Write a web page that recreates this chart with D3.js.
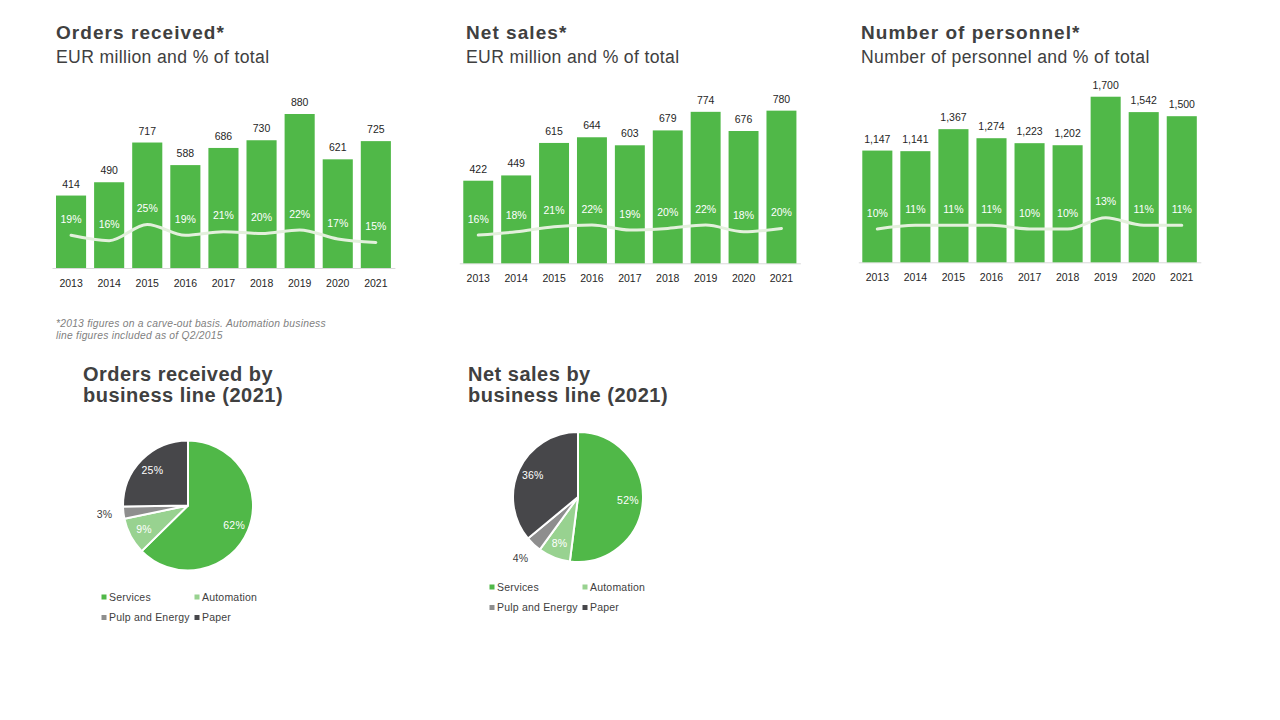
<!DOCTYPE html>
<html><head><meta charset="utf-8">
<script src="https://cdn.jsdelivr.net/npm/d3@7"></script>
<style>
html,body{margin:0;padding:0;background:#fff;}
svg{display:block;font-family:"Liberation Sans",Arial,sans-serif;}
</style></head>
<body>
<svg id="c" width="1280" height="720"></svg>
<script>
// ---- DATA ----
const years = ["2013","2014","2015","2016","2017","2018","2019","2020","2021"];
const ordersValues = [414,490,717,588,686,730,880,621,725];
const ordersPct = [19,16,25,19,21,20,22,17,15];
const salesValues = [422,449,615,644,603,679,774,676,780];
const salesPct = [16,18,21,22,19,20,22,18,20];
const personnelValues = [1147,1141,1367,1274,1223,1202,1700,1542,1500];
const personnelPct = [10,11,11,11,10,10,13,11,11];

const businessLines = ["Services","Automation","Pulp and Energy","Paper"];
const ordersByLine = [62,9,3,25];
const salesByLine = [52,8,4,36];

// ---- STYLE ----
const GREEN = "#50b848", LIGHT = "#98d290", GREY = "#8e8e8e", DARK = "#47474a";
const LINE = "#e3f0dc", TXT = "#404040";
const lineColors = [GREEN, LIGHT, GREY, DARK];

const svg = d3.select("#c");

function title(x, t1, t2){
  svg.append("text").attr("x",x).attr("y",39).attr("fill",TXT)
    .attr("font-size",19).attr("font-weight","bold").attr("letter-spacing",1.05).text(t1);
  svg.append("text").attr("x",x).attr("y",63).attr("fill",TXT)
    .attr("font-size",17.6).attr("letter-spacing",0.35).text(t2);
}

function barChart(cfg){
  const g = svg.append("g");
  const x = d3.scaleBand().domain(years).range([cfg.x0,cfg.x1]).paddingInner(0.21).paddingOuter(0.105);
  const y = d3.scaleLinear().domain([0,1000]).range([cfg.base, cfg.base - 1000*cfg.k]);
  const y2 = d3.scaleLinear().domain([0,100]).range([cfg.zero2, cfg.zero2 - 100*cfg.k2]);
  const fmt = d3.format(",");
  const axis = d3.axisBottom(x).tickSize(0).tickPadding(0);
  const ag = g.append("g").attr("transform",`translate(0,${cfg.base})`).call(axis);
  ag.select(".domain").attr("stroke","#d9d9d9").attr("stroke-width",1);
  ag.selectAll("text").attr("font-size",10.5).attr("fill","#262626")
    .attr("font-family","'Liberation Sans',Arial,sans-serif").attr("dy",null).attr("y",19);
  g.selectAll("rect.bar").data(cfg.values).join("rect").attr("class","bar")
    .attr("x",(d,i)=>x(years[i])).attr("width",x.bandwidth())
    .attr("y",d=>y(d)).attr("height",d=>cfg.base-y(d)).attr("fill",GREEN);
  g.selectAll("text.val").data(cfg.values).join("text").attr("class","val")
    .attr("x",(d,i)=>x(years[i])+x.bandwidth()/2).attr("y",d=>y(d)-8)
    .attr("text-anchor","middle").attr("font-size",10.5).attr("fill","#262626").text(d=>fmt(d));
  const line = d3.line().x((d,i)=>x(years[i])+x.bandwidth()/2).y(d=>y2(d)).curve(d3.curveMonotoneX);
  g.append("path").datum(cfg.pct).attr("d",line).attr("fill","none")
    .attr("stroke",LINE).attr("stroke-width",3).attr("stroke-linecap","round").attr("stroke-linejoin","round");
  g.selectAll("text.pct").data(cfg.pct).join("text").attr("class","pct")
    .attr("x",(d,i)=>x(years[i])+x.bandwidth()/2).attr("y",d=>y2(d)-16)
    .attr("dy","0.35em").attr("text-anchor","middle").attr("font-size",10.5).attr("fill","#fff").text(d=>d+"%");
}

title(56,"Orders received*","EUR million and % of total");
title(466,"Net sales*","EUR million and % of total");
title(861,"Number of personnel*","Number of personnel and % of total");

barChart({values:ordersValues,pct:ordersPct,x0:52,x1:394.9,base:268,k:0.175,zero2:269.5,k2:1.8});
barChart({values:salesValues,pct:salesPct,x0:459.3,x1:800.4,base:263.3,k:0.1957,zero2:262,k2:1.68});
barChart({values:personnelValues,pct:personnelPct,x0:858.3,x1:1200.8,base:262.3,k:0.0974,zero2:266.5,k2:3.75});

// footnote
svg.append("text").attr("x",56).attr("y",326.5).attr("font-size",10.3).attr("letter-spacing",0.23)
  .attr("font-style","italic").attr("fill","#7f7f7f")
  .text("*2013 figures on a carve-out basis. Automation business");
svg.append("text").attr("x",56).attr("y",338.5).attr("font-size",10.3).attr("letter-spacing",0.23)
  .attr("font-style","italic").attr("fill","#7f7f7f")
  .text("line figures included as of Q2/2015");

function pieChart(cfg){
  svg.append("text").attr("x",cfg.tx).attr("y",381).attr("fill",TXT).attr("font-size",20)
    .attr("font-weight","bold").attr("letter-spacing",0.5).text(cfg.t1);
  svg.append("text").attr("x",cfg.tx).attr("y",402).attr("fill",TXT).attr("font-size",20)
    .attr("font-weight","bold").attr("letter-spacing",0.5).text("business line (2021)");
  const g = svg.append("g").attr("transform",`translate(${cfg.cx},${cfg.cy})`);
  const pie = d3.pie().sort(null).value(d=>d);
  const arcs = pie(cfg.values);
  const arc = d3.arc().innerRadius(0).outerRadius(65);
  const inArc = d3.arc().innerRadius(50).outerRadius(50);
  const outArc = d3.arc().innerRadius(84).outerRadius(84);
  g.selectAll("path").data(arcs).join("path").attr("d",arc)
    .attr("fill",(d,i)=>lineColors[i]).attr("stroke","#fff").attr("stroke-width",2).attr("stroke-linejoin","round");
  g.selectAll("text").data(arcs).join("text")
    .attr("transform",(d,i)=>`translate(${(i===2?outArc:inArc).centroid(d)})`)
    .attr("text-anchor","middle").attr("dy","0.35em").attr("font-size",10.5).attr("letter-spacing",0.2)
    .attr("fill",(d,i)=>i===2?TXT:"#fff").text(d=>d.data+"%");
  const lg = svg.append("g");
  businessLines.forEach((name,i)=>{
    const lx = cfg.lx + (i%2)*cfg.col, ly = cfg.ly + Math.floor(i/2)*20.5;
    lg.append("rect").attr("x",lx-2.5).attr("y",ly-2.5).attr("width",5).attr("height",5).attr("fill",lineColors[i]);
    lg.append("text").attr("x",lx+5).attr("y",ly).attr("dy","0.35em").attr("font-size",10.5)
      .attr("letter-spacing",0.2).attr("fill",TXT).text(name);
  });
}
pieChart({t1:"Orders received by",tx:83,cx:188,cy:505.5,values:ordersByLine,lx:104,ly:597,col:93});
pieChart({t1:"Net sales by",tx:468,cx:578,cy:497,values:salesByLine,lx:492,ly:587,col:93});
</script>
</body></html>
